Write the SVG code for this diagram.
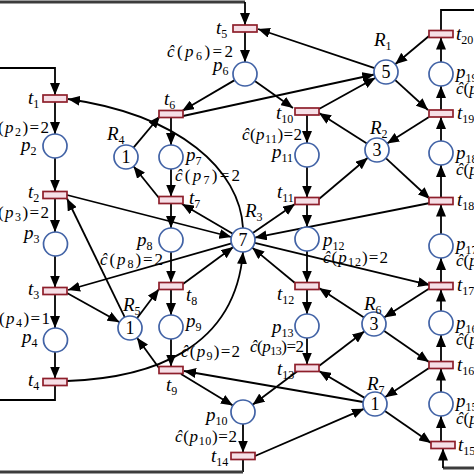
<svg xmlns="http://www.w3.org/2000/svg" width="474" height="474" viewBox="0 0 474 474">
<style>
.tr{fill:#f6dfe6;stroke:#8e1f2b;stroke-width:1.7}
.pl{fill:#fff;stroke:#4263a6;stroke-width:1.7}
.e{fill:none;stroke:#000;stroke-width:1.8;marker-end:url(#a)}
.n{fill:none;stroke:#000;stroke-width:1.8}
.b{fill:none;stroke:#3c3c3c;stroke-width:3}
text{font-family:"Liberation Serif","Times New Roman",serif;font-size:19px;fill:#000}
.i{font-style:italic}
.s{font-size:12px;font-style:normal}
.c{font-size:17px}
.k{font-size:18px;text-anchor:middle}
</style>
<defs>
<marker id="a" viewBox="0 0 12 10" refX="12" refY="5" markerWidth="12" markerHeight="10" markerUnits="userSpaceOnUse" orient="auto"><path d="M0,0 L12,5 L0,10 z" fill="#000"/></marker>
</defs>
<g id="connectors">
<path class="b" d="M0,2 H245"/>
<path class="e" d="M245,2 V25"/>
<path class="e" d="M0,68 H55 V95"/>
<path class="n" d="M55,385.5 V400 H0"/>
<path class="n" d="M243,459.5 V472"/>
<path class="b" d="M0,472 H243"/>
<path class="n" d="M441,30.5 V10 H474"/>
<path class="b" d="M474,468 H443"/>
<path class="e" d="M443,468 V448.5"/>
<path class="e" d="M55,102 V134"/>
<path class="e" d="M55,158 V191.5"/>
<path class="e" d="M55,198.5 V232"/>
<path class="e" d="M55,256 V287.5"/>
<path class="e" d="M55,294.5 V328"/>
<path class="e" d="M55,352 V378.5"/>
<path class="e" d="M245,32 V62"/>
<path class="e" d="M234.7,80.1 L182,111"/>
<path class="e" d="M254.8,80.9 L293,108"/>
<path class="e" d="M171,117.5 V145"/>
<path class="e" d="M171,169 V196.5"/>
<path class="e" d="M171,203.5 V228"/>
<path class="e" d="M171,252 V282.5"/>
<path class="e" d="M171,289.5 V315"/>
<path class="e" d="M171,339 V366.5"/>
<path class="e" d="M181,374 L232.9,405.5"/>
<path class="e" d="M297,371.5 L252.6,404.8"/>
<path class="e" d="M243,424 V452.5"/>
<path class="e" d="M307,115 V143"/>
<path class="e" d="M307,167 V197.5"/>
<path class="e" d="M307,204.5 V227"/>
<path class="e" d="M307,251 V282.5"/>
<path class="e" d="M307,289.5 V314"/>
<path class="e" d="M307,338 V364.5"/>
<path class="e" d="M441,441.5 V416"/>
<path class="e" d="M441,392 V368.5"/>
<path class="e" d="M441,361.5 V335"/>
<path class="e" d="M441,311 V289.5"/>
<path class="e" d="M441,282.5 V258"/>
<path class="e" d="M441,234 V204.5"/>
<path class="e" d="M441,197.5 V165"/>
<path class="e" d="M441,141 V117"/>
<path class="e" d="M441,110 V86"/>
<path class="e" d="M441,62 V37.5"/>
<path class="e" d="M374.6,68.2 L258,29"/>
<path class="e" d="M183,116 L374.3,74.5"/>
<path class="e" d="M319,109 L375.5,77.8"/>
<path class="e" d="M395,79.9 L428,110"/>
<path class="e" d="M429,36 L395.2,64.3"/>
<path class="e" d="M429,117 L387.1,143.6"/>
<path class="e" d="M366.9,143.5 L319,113"/>
<path class="e" d="M319,199 L367.8,157.7"/>
<path class="e" d="M385.8,158.1 L430,199"/>
<path class="e" d="M243,228 C240,170 180,115 68,99"/>
<path class="e" d="M67,195 L231.4,237"/>
<path class="e" d="M231.5,243.3 L68,290"/>
<path class="e" d="M67,381 C150,378 235,350 243,252"/>
<path class="e" d="M232.8,233.7 L182,204"/>
<path class="e" d="M183,284 L233.3,247.1"/>
<path class="e" d="M252.8,233 L295,204"/>
<path class="e" d="M295,283 L252.2,247.6"/>
<path class="e" d="M254.7,242.8 L430,285"/>
<path class="e" d="M430,203 L254.8,237.7"/>
<path class="e" d="M133.5,147.6 L160,116"/>
<path class="e" d="M159,198 L133.5,166.3"/>
<path class="e" d="M124.7,317.2 L67,198.5"/>
<path class="e" d="M67,293 L119.5,322.2"/>
<path class="e" d="M137,318.3 L159,289"/>
<path class="e" d="M159,368 L137,337.7"/>
<path class="e" d="M364,317.4 L319,288"/>
<path class="e" d="M319,366 L364.5,331.3"/>
<path class="e" d="M430,288 L384.1,317.5"/>
<path class="e" d="M383.9,330.8 L429,362"/>
<path class="e" d="M363.2,402 L184,371"/>
<path class="e" d="M364.7,397.9 L319,371"/>
<path class="e" d="M255,456 L364,408.8"/>
<path class="e" d="M429,368 L385,397.3"/>
<path class="e" d="M384.9,410.9 L431,443"/>
</g>

<g id="t1"><rect class="tr" x="43" y="95" width="24" height="7"/><text x="28" y="104"><tspan class="i">t</tspan><tspan class="s" dy="4">1</tspan></text></g>
<g id="p2"><circle class="pl" cx="55" cy="146" r="12"/><text x="21" y="151"><tspan class="i">p</tspan><tspan class="s" dy="4">2</tspan></text><text class="c" x="49" y="133" text-anchor="end" textLength="60"><tspan class="i">ĉ</tspan>(<tspan class="i">p</tspan><tspan class="s" dy="3">2</tspan><tspan dy="-3">)=2</tspan></text></g>
<g id="t2"><rect class="tr" x="43" y="191.5" width="24" height="7"/><text x="28" y="198"><tspan class="i">t</tspan><tspan class="s" dy="4">2</tspan></text></g>
<g id="p3"><circle class="pl" cx="55.5" cy="244" r="12"/><text x="24" y="239"><tspan class="i">p</tspan><tspan class="s" dy="4">3</tspan></text><text class="c" x="49" y="218" text-anchor="end" textLength="60"><tspan class="i">ĉ</tspan>(<tspan class="i">p</tspan><tspan class="s" dy="3">3</tspan><tspan dy="-3">)=2</tspan></text></g>
<g id="t3"><rect class="tr" x="43" y="287.5" width="24" height="7"/><text x="28" y="295"><tspan class="i">t</tspan><tspan class="s" dy="4">3</tspan></text></g>
<g id="p4"><circle class="pl" cx="55.5" cy="340" r="12"/><text x="22" y="343"><tspan class="i">p</tspan><tspan class="s" dy="4">4</tspan></text><text class="c" x="50" y="324" text-anchor="end" textLength="60"><tspan class="i">ĉ</tspan>(<tspan class="i">p</tspan><tspan class="s" dy="3">4</tspan><tspan dy="-3">)=1</tspan></text></g>
<g id="t4"><rect class="tr" x="43" y="378.5" width="24" height="7"/><text x="28" y="386"><tspan class="i">t</tspan><tspan class="s" dy="4">4</tspan></text></g>

<g id="t5"><rect class="tr" x="233" y="25" width="24" height="7"/><text x="216" y="34"><tspan class="i">t</tspan><tspan class="s" dy="4">5</tspan></text></g>
<g id="p6"><circle class="pl" cx="245" cy="74" r="12"/><text class="c" x="167" y="57" textLength="66"><tspan class="i">ĉ</tspan>(<tspan class="i">p</tspan><tspan class="s" dy="3">6</tspan><tspan dy="-3">)=2</tspan></text><text x="213" y="71"><tspan class="i">p</tspan><tspan class="s" dy="4">6</tspan></text></g>
<g id="t6"><rect class="tr" x="159" y="110.5" width="24" height="7"/><text x="164" y="105"><tspan class="i">t</tspan><tspan class="s" dy="4">6</tspan></text></g>
<g id="p7"><circle class="pl" cx="171" cy="157" r="12"/><text x="186" y="161"><tspan class="i">p</tspan><tspan class="s" dy="4">7</tspan></text><text class="c" x="175" y="181" textLength="65"><tspan class="i">ĉ</tspan>(<tspan class="i">p</tspan><tspan class="s" dy="3">7</tspan><tspan dy="-3">)=2</tspan></text></g>
<g id="t7"><rect class="tr" x="159" y="196.5" width="24" height="7"/><text x="189" y="204"><tspan class="i">t</tspan><tspan class="s" dy="4">7</tspan></text></g>
<g id="p8"><circle class="pl" cx="171" cy="240" r="12"/><text x="137" y="246"><tspan class="i">p</tspan><tspan class="s" dy="4">8</tspan></text><text class="c" x="100" y="265" textLength="63"><tspan class="i">ĉ</tspan>(<tspan class="i">p</tspan><tspan class="s" dy="3">8</tspan><tspan dy="-3">)=2</tspan></text></g>
<g id="t8"><rect class="tr" x="159" y="282.5" width="24" height="7"/><text x="186" y="301"><tspan class="i">t</tspan><tspan class="s" dy="4">8</tspan></text></g>
<g id="p9"><circle class="pl" cx="171" cy="327" r="12"/><text x="186" y="327"><tspan class="i">p</tspan><tspan class="s" dy="4">9</tspan></text><text class="c" x="181" y="357" textLength="59"><tspan class="i">ĉ</tspan>(<tspan class="i">p</tspan><tspan class="s" dy="3">9</tspan><tspan dy="-3">)=2</tspan></text></g>
<g id="t9"><rect class="tr" x="159" y="366.5" width="24" height="7"/><text x="166" y="391"><tspan class="i">t</tspan><tspan class="s" dy="4">9</tspan></text></g>
<g id="p10"><circle class="pl" cx="243" cy="412" r="12"/><text x="206" y="421"><tspan class="i">p</tspan><tspan class="s" dy="4">10</tspan></text><text class="c" x="175" y="442" textLength="62"><tspan class="i">ĉ</tspan>(<tspan class="i">p</tspan><tspan class="s" dy="3">10</tspan><tspan dy="-3">)=2</tspan></text></g>
<g id="t14"><rect class="tr" x="231" y="452.5" width="24" height="7"/><text x="211" y="462"><tspan class="i">t</tspan><tspan class="s" dy="4">14</tspan></text></g>

<g id="t10"><rect class="tr" x="295" y="108" width="24" height="7"/><text x="276" y="119"><tspan class="i">t</tspan><tspan class="s" dy="4">10</tspan></text></g>
<g id="p11"><circle class="pl" cx="307" cy="155" r="12"/><text class="c" x="242" y="140" textLength="60"><tspan class="i">ĉ</tspan>(<tspan class="i">p</tspan><tspan class="s" dy="3">11</tspan><tspan dy="-3">)=2</tspan></text><text x="272" y="158"><tspan class="i">p</tspan><tspan class="s" dy="4">11</tspan></text></g>
<g id="t11"><rect class="tr" x="295" y="197.5" width="24" height="7"/><text x="277" y="198"><tspan class="i">t</tspan><tspan class="s" dy="4">11</tspan></text></g>
<g id="p12"><circle class="pl" cx="307" cy="239" r="12"/><text x="323" y="246"><tspan class="i">p</tspan><tspan class="s" dy="4">12</tspan></text><text class="c" x="323" y="263" textLength="65"><tspan class="i">ĉ</tspan>(<tspan class="i">p</tspan><tspan class="s" dy="3">12</tspan><tspan dy="-3">)=2</tspan></text></g>
<g id="t12"><rect class="tr" x="295" y="282.5" width="24" height="7"/><text x="277" y="300"><tspan class="i">t</tspan><tspan class="s" dy="4">12</tspan></text></g>
<g id="p13"><circle class="pl" cx="307" cy="326" r="12"/><text x="272" y="333"><tspan class="i">p</tspan><tspan class="s" dy="4">13</tspan></text><text class="c" x="250" y="352" textLength="54"><tspan class="i">ĉ</tspan>(<tspan class="i">p</tspan><tspan class="s" dy="3">13</tspan><tspan dy="-3">)=2</tspan></text></g>
<g id="t13"><rect class="tr" x="295" y="364.5" width="24" height="7"/><text x="277" y="375"><tspan class="i">t</tspan><tspan class="s" dy="4">13</tspan></text></g>

<g id="t20"><rect class="tr" x="429" y="30.5" width="24" height="7"/><text x="456" y="40"><tspan class="i">t</tspan><tspan class="s" dy="4">20</tspan></text></g>
<g id="p19"><circle class="pl" cx="441" cy="74" r="12"/><text x="456" y="78"><tspan class="i">p</tspan><tspan class="s" dy="4">19</tspan></text><text class="c" x="456" y="94"><tspan class="i">ĉ</tspan>(<tspan class="i">p</tspan><tspan class="s" dy="3">19</tspan><tspan dy="-3">)=2</tspan></text></g>
<g id="t19"><rect class="tr" x="429" y="110" width="24" height="7"/><text x="457" y="119"><tspan class="i">t</tspan><tspan class="s" dy="4">19</tspan></text></g>
<g id="p18"><circle class="pl" cx="441" cy="153" r="12"/><text x="456" y="159"><tspan class="i">p</tspan><tspan class="s" dy="4">18</tspan></text><text class="c" x="456" y="175"><tspan class="i">ĉ</tspan>(<tspan class="i">p</tspan><tspan class="s" dy="3">18</tspan><tspan dy="-3">)=2</tspan></text></g>
<g id="t18"><rect class="tr" x="429" y="197.5" width="24" height="7"/><text x="457" y="206"><tspan class="i">t</tspan><tspan class="s" dy="4">18</tspan></text></g>
<g id="p17"><circle class="pl" cx="441" cy="246" r="12"/><text x="456" y="250"><tspan class="i">p</tspan><tspan class="s" dy="4">17</tspan></text><text class="c" x="456" y="266"><tspan class="i">ĉ</tspan>(<tspan class="i">p</tspan><tspan class="s" dy="3">17</tspan><tspan dy="-3">)=2</tspan></text></g>
<g id="t17"><rect class="tr" x="429" y="282.5" width="24" height="7"/><text x="457" y="291"><tspan class="i">t</tspan><tspan class="s" dy="4">17</tspan></text></g>
<g id="p16"><circle class="pl" cx="441" cy="323" r="12"/><text x="456" y="329"><tspan class="i">p</tspan><tspan class="s" dy="4">16</tspan></text><text class="c" x="456" y="345"><tspan class="i">ĉ</tspan>(<tspan class="i">p</tspan><tspan class="s" dy="3">16</tspan><tspan dy="-3">)=2</tspan></text></g>
<g id="t16"><rect class="tr" x="429" y="361.5" width="24" height="7"/><text x="457" y="371"><tspan class="i">t</tspan><tspan class="s" dy="4">16</tspan></text></g>
<g id="p15"><circle class="pl" cx="441" cy="404" r="12"/><text x="456" y="407"><tspan class="i">p</tspan><tspan class="s" dy="4">15</tspan></text><text class="c" x="456" y="424"><tspan class="i">ĉ</tspan>(<tspan class="i">p</tspan><tspan class="s" dy="3">15</tspan><tspan dy="-3">)=2</tspan></text></g>
<g id="t15"><rect class="tr" x="431" y="441.5" width="24" height="7"/><text x="458" y="451"><tspan class="i">t</tspan><tspan class="s" dy="4">15</tspan></text></g>

<g id="R1"><circle class="pl" cx="386" cy="72" r="12"/><text class="k" x="386" y="78">5</text><text x="374" y="46"><tspan class="i">R</tspan><tspan class="s" dy="4">1</tspan></text></g>
<g id="R2"><circle class="pl" cx="377" cy="150" r="12"/><text class="k" x="377" y="156">3</text><text x="370" y="134"><tspan class="i">R</tspan><tspan class="s" dy="4">2</tspan></text></g>
<g id="R3"><circle class="pl" cx="243" cy="240" r="12"/><text class="k" x="243" y="246">7</text><text x="245" y="217"><tspan class="i">R</tspan><tspan class="s" dy="4">3</tspan></text></g>
<g id="R4"><circle class="pl" cx="126" cy="157" r="12"/><text class="k" x="126" y="163">1</text><text x="107" y="140"><tspan class="i">R</tspan><tspan class="s" dy="4">4</tspan></text></g>
<g id="R5"><circle class="pl" cx="130" cy="328" r="12"/><text class="k" x="130" y="334">1</text><text x="123" y="311"><tspan class="i">R</tspan><tspan class="s" dy="4">5</tspan></text></g>
<g id="R6"><circle class="pl" cx="374" cy="324" r="12"/><text class="k" x="374" y="330">3</text><text x="364" y="310"><tspan class="i">R</tspan><tspan class="s" dy="4">6</tspan></text></g>
<g id="R7"><circle class="pl" cx="375" cy="404" r="12"/><text class="k" x="375" y="410">1</text><text x="367" y="390"><tspan class="i">R</tspan><tspan class="s" dy="4">7</tspan></text></g>
</svg>
